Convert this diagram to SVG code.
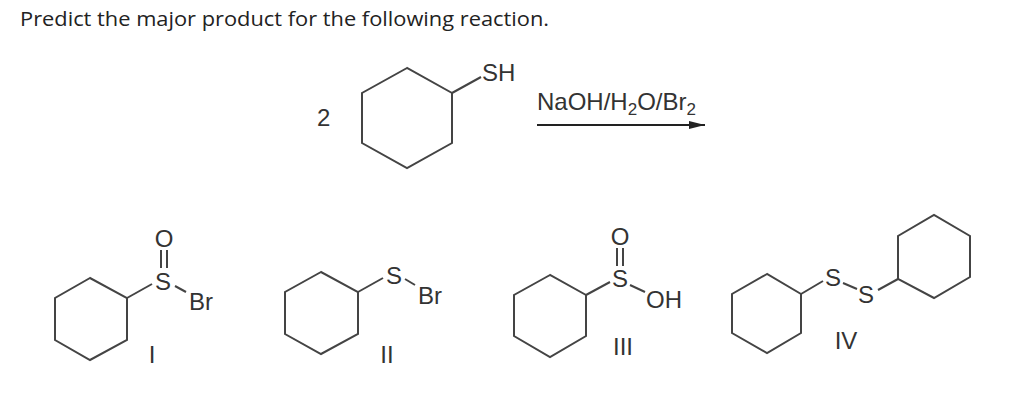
<svg xmlns="http://www.w3.org/2000/svg" width="1024" height="401" viewBox="0 0 1024 401">
<style>
.b{fill:none;stroke:#444;stroke-width:2;stroke-linejoin:miter}
text{font-family:"Liberation Sans",Arial,sans-serif;font-size:24px;fill:#333}
.t{font-family:"Open Sans","Liberation Sans",sans-serif;font-size:19.5px;fill:#222}
.c{text-anchor:middle}
</style>
<defs><marker id="ah" markerWidth="16" markerHeight="8" refX="16" refY="4" orient="auto" markerUnits="userSpaceOnUse"><path d="M0,0L16,4L0,8z" fill="#222"/></marker></defs>
<rect width="1024" height="401" fill="#fff"/>
<text class="t" x="20" y="26" textLength="529" lengthAdjust="spacingAndGlyphs">Predict the major product for the following reaction.</text>
<g id="reactant">
<text x="317" y="126">2</text>
<polygon class="b" points="407,68 362,93 362,143 407,168 452,143 452,93"/>
<line class="b" x1="452" y1="93" x2="481" y2="77"/>
<text x="482" y="81">SH</text>
</g>
<g id="connectors">
<line x1="537" y1="125" x2="705" y2="125" stroke="#222" stroke-width="2" marker-end="url(#ah)"/>
<text x="537" y="110">NaOH/H<tspan font-size="17" dy="5">2</tspan><tspan dy="-5">O/Br</tspan><tspan font-size="17" dy="5">2</tspan></text>
</g>
<g id="p1">
<polygon class="b" points="90,278 55,298 55,340 90,360 127,340 127,298"/>
<line class="b" x1="127" y1="298" x2="152" y2="284"/>
<text class="c" x="163" y="290">S</text>
<text class="c" x="164" y="247">O</text>
<line class="b" x1="161" y1="250" x2="161" y2="268"/><line class="b" x1="167" y1="250" x2="167" y2="268"/>
<line class="b" x1="175" y1="286" x2="186" y2="292"/>
<text x="189" y="310">Br</text>
<text class="c" x="152" y="363">I</text>
</g>
<g id="p2">
<polygon class="b" points="321,272 285,292 285,334 321,354 358,334 358,292"/>
<line class="b" x1="358" y1="292" x2="383" y2="278"/>
<text class="c" x="394" y="284">S</text>
<line class="b" x1="405" y1="279" x2="415" y2="285"/>
<text x="418" y="304">Br</text>
<text class="c" x="387" y="363">II</text>
</g>
<g id="p3">
<polygon class="b" points="550,275 514,295 514,336 550,357 586,336 586,295"/>
<line class="b" x1="586" y1="295" x2="610" y2="282"/>
<text class="c" x="620" y="287">S</text>
<text class="c" x="620" y="245">O</text>
<line class="b" x1="617" y1="248" x2="617" y2="266"/><line class="b" x1="623" y1="248" x2="623" y2="266"/>
<line class="b" x1="630" y1="285" x2="645" y2="292"/>
<text x="646" y="308">OH</text>
<text class="c" x="623" y="355">III</text>
</g>
<g id="p4">
<polygon class="b" points="767,274 732,294 732,333 767,353 801,333 801,294"/>
<line class="b" x1="801" y1="294" x2="823" y2="281"/>
<text class="c" x="833" y="286">S</text>
<line class="b" x1="843" y1="283" x2="857" y2="289"/>
<text class="c" x="866" y="303">S</text>
<line class="b" x1="878" y1="290" x2="898" y2="279"/>
<polygon class="b" points="898,279 898,236 934,215 970,236 970,277 934,298"/>
<text class="c" x="846" y="349">IV</text>
</g>
</svg>
